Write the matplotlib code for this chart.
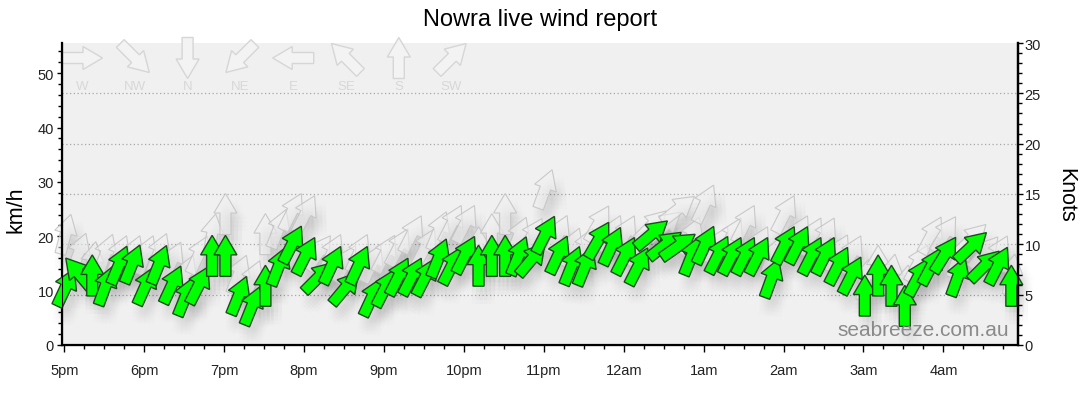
import numpy as np
import pandas as pd
import matplotlib
matplotlib.use("Agg")
import matplotlib.pyplot as plt
import matplotlib.dates as mdates
from matplotlib.patches import Polygon
from matplotlib.transforms import Affine2D, ScaledTranslation

plt.rcParams['font.family'] = ['Liberation Sans', 'DejaVu Sans']

# ---------------- data ----------------
start_time = '2024-01-01 17:01'
obs_step = '10min'

wind_kmh = [10.6, 13.1, 12.8, 10.9, 14.7, 14.9, 10.9, 14.8, 11.1, 8.9,
            11.0, 16.4, 16.4, 9.1, 7.2, 10.9, 14.5, 18.5, 16.4, 12.5,
            14.7, 10.5, 14.7, 8.8, 10.5, 12.6, 12.6, 12.5, 16.0, 14.6,
            16.6, 14.6, 16.4, 16.4, 16.4, 15.8, 20.3, 16.6, 14.6, 14.5,
            19.3, 18.2, 16.4, 14.5, 20.4, 18.4, 18.2, 16.4, 18.4, 16.6,
            16.4, 16.4, 16.4, 12.3, 18.4, 18.4, 16.4, 16.4, 14.6, 12.8,
            9.1, 12.8, 10.9, 7.2, 12.5, 14.5, 16.6, 12.6, 18.1, 14.6,
            14.6, 10.9]
wind_from_deg = [205, 140, 180, 200, 203, 202, 204, 202, 205, 202,
                 207, 180, 180, 202, 202, 180, 201, 207, 207, 225,
                 205, 220, 205, 205, 207, 207, 207, 207, 202, 207,
                 207, 180, 180, 180, 202, 220, 207, 205, 202, 202,
                 210, 205, 207, 207, 230, 232, 235, 202, 205, 207,
                 207, 207, 207, 200, 207, 207, 207, 207, 207, 207,
                 180, 180, 180, 180, 208, 208, 212, 200, 227, 225,
                 207, 180]
gust_kmh = [20.4, 17.0, 15.3, 16.8, 16.6, 16.6, 16.6, 17.0, 15.5, 13.0,
            16.6, 20.4, 24.1, 13.0, 12.0, 20.4, 21.4, 24.5, 24.1, 17.0,
            16.9, 15.0, 16.9, 15.0, 16.8, 18.0, 20.4, 18.0, 21.0, 22.3,
            22.3, 18.0, 20.4, 24.1, 20.0, 20.0, 28.7, 20.4, 18.0, 18.0,
            22.3, 20.4, 20.4, 18.0, 22.0, 22.0, 25.0, 20.0, 26.0, 18.4,
            20.0, 22.3, 18.4, 16.0, 24.1, 20.4, 20.0, 20.0, 16.9, 16.7,
            12.0, 14.6, 13.0, 11.0, 15.0, 20.2, 20.4, 16.0, 19.5, 17.0,
            16.7, 13.0]
gust_from_deg = [195, 200, 190, 200, 202, 202, 202, 202, 205, 202,
                 205, 190, 180, 202, 202, 180, 201, 207, 207, 215,
                 205, 210, 205, 205, 207, 207, 207, 207, 202, 207,
                 207, 180, 180, 180, 202, 210, 200, 205, 202, 202,
                 210, 205, 207, 207, 225, 230, 232, 202, 205, 207,
                 207, 207, 207, 200, 207, 207, 207, 207, 207, 207,
                 190, 180, 190, 190, 208, 208, 212, 200, 225, 220,
                 207, 190]

hour_start = '2024-01-01 17:00'
hour_labels = ['5pm', '6pm', '7pm', '8pm', '9pm', '10pm', '11pm',
               '12am', '1am', '2am', '3am', '4am']
compass_labels = ['W', 'NW', 'N', 'NE', 'E', 'SE', 'S', 'SW']
compass_from_deg = [270, 315, 0, 45, 90, 135, 180, 225]

KMH_PER_KNOT = 1.852
knot_max = 30

# ---------------- figure ----------------
W, H, DPI = 1080, 414, 100
fig = plt.figure(figsize=(W / DPI, H / DPI), dpi=DPI)
fig.patch.set_facecolor('white')
ax = fig.add_axes([62 / W, 68 / H, 956 / W, 302 / H])
ax.set_facecolor('#f0f0f0')

times = pd.date_range(start_time, periods=len(wind_kmh), freq=obs_step)
xnum = mdates.date2num(times)
hours = pd.date_range(hour_start, periods=len(hour_labels), freq='h')
hnum = mdates.date2num(hours)
minute = 1.0 / (24 * 60)
ax.set_xlim(hnum[0] - 1.7 * minute, hnum[0] + 716 * minute)
ax.set_ylim(0, knot_max * KMH_PER_KNOT)

# grid lines at knot ticks (drawn on primary axes, behind arrows)
knot_ticks = np.arange(0, knot_max + 1, 5)
for k in knot_ticks[1:-1]:
    ax.axhline(k * KMH_PER_KNOT, color='#a8a8a8', lw=0.9, ls=(0, (1, 2)), zorder=0.5)

# arrow geometry in pixels (pointing up, centred)
shape = np.array([[-5.5, -20.5], [-5.5, 1], [-11.5, 1], [0, 20.5], [11.5, 1], [5.5, 1],
                  [5.5, -20.5]], float)


def arrow_transform(xd, yd, pointing_deg, base, dx_px=0.0, dy_px=0.0):
    return (Affine2D().rotate_deg(-pointing_deg).translate(dx_px, dy_px).scale(1.0 / DPI)
            + fig.dpi_scale_trans + ScaledTranslation(xd, yd, base))


def draw_arrow(xd, yd, from_deg, base, z, **kw):
    pointing = (from_deg + 180) % 360
    p = Polygon(shape, closed=True, transform=arrow_transform(xd, yd, pointing, base),
                clip_on=False, zorder=z, **kw)
    ax.add_patch(p)


def draw_shadow(xd, yd, from_deg, base, z):
    pointing = (from_deg + 180) % 360
    for ox in (-6, -2, 2, 6):
        for oy in (-6, -2, 2, 6):
            p = Polygon(shape, closed=True,
                        transform=arrow_transform(xd, yd, pointing, base, 5 + ox, -12 + oy),
                        clip_on=False, zorder=z, facecolor='black', edgecolor='none',
                        alpha=0.0065)
            ax.add_patch(p)


# shadows
for xi, g, gd in zip(xnum, gust_kmh, gust_from_deg):
    draw_shadow(xi, g, gd, ax.transData, 1)
for xi, s, d in zip(xnum, wind_kmh, wind_from_deg):
    draw_shadow(xi, s, d, ax.transData, 1)

# gust arrows
for xi, g, gd in zip(xnum, gust_kmh, gust_from_deg):
    draw_arrow(xi, g, gd, ax.transData, 2, facecolor=(0.94, 0.94, 0.94, 0.55),
               edgecolor=(0.76, 0.76, 0.76, 0.85), lw=0.8)

# wind arrows
for xi, s, d in zip(xnum, wind_kmh, wind_from_deg):
    draw_arrow(xi, s, d, ax.transData, 3, facecolor='#00ff00', edgecolor='#1f4a1f', lw=1.0)

# compass legend
ax_w, ax_h = 956.0, 302.0
for i, (lab, d) in enumerate(zip(compass_labels, compass_from_deg)):
    fx = (20 + 52.8 * i) / ax_w
    draw_arrow(fx, (346 - 59) / ax_h, d, ax.transAxes, 2.5, facecolor='#f3f3f3',
               edgecolor='#d6d6d6', lw=1.0)
    ax.text(fx, (346 - 87) / ax_h, lab, transform=ax.transAxes, ha='center', va='center',
            fontsize=9.5, color='#d8d8d8', zorder=2.5)

# watermark
ax.text((1009 - 62) / ax_w, (346 - 331) / ax_h, 'seabreeze.com.au',
        transform=ax.transAxes, ha='right', va='center', fontsize=15, color='#8a8a8a', zorder=4)

# axes styling
ax.spines['top'].set_visible(False)
for sp in ['left', 'bottom', 'right']:
    ax.spines[sp].set_linewidth(1.6)
    ax.spines[sp].set_color('black')

ax.set_yticks(np.arange(0, 51, 10))
ax.set_yticks(np.arange(0, 55, 2), minor=True)
ax.set_xticks(hnum)
ax.set_xticklabels(hour_labels)
minor_x = mdates.date2num(pd.date_range(hour_start, periods=48, freq='15min'))
ax.set_xticks(minor_x, minor=True)
ax.tick_params(axis='y', which='major', direction='out', length=3.3, width=1, labelsize=10.5,
               pad=2.5, colors='black', labelcolor='#222222')
ax.tick_params(axis='y', which='minor', direction='out', length=3.0, width=1)
ax.tick_params(axis='x', which='major', direction='out', length=5, width=1, labelsize=10.5,
               pad=8, labelcolor='#222222')
ax.tick_params(axis='x', which='minor', direction='out', length=3, width=1)

ax2 = ax.twinx()
ax2.set_ylim(0, knot_max)
ax2.set_yticks(knot_ticks)
ax2.set_yticks(np.arange(0, knot_max + 1, 1), minor=True)
ax2.spines['top'].set_visible(False)
ax2.spines['right'].set_linewidth(1.6)
ax2.tick_params(axis='y', which='major', direction='out', length=3.3, width=1, labelsize=10.5,
                pad=1.5, labelcolor='#222222')
ax2.tick_params(axis='y', which='minor', direction='out', length=3.0, width=1)
ax2.patch.set_visible(False)

# labels and title
fig.text(16 / W, 1 - 210 / H, 'km/h', rotation=90, ha='center', va='center', fontsize=15.5)
fig.text(1066 / W, 1 - 195 / H, 'Knots', rotation=270, ha='center', va='center', fontsize=15.5)
fig.text(540 / W, 1 - 20 / H, 'Nowra live wind report', ha='center', va='center', fontsize=17)

fig.savefig('out.png', dpi=DPI)
